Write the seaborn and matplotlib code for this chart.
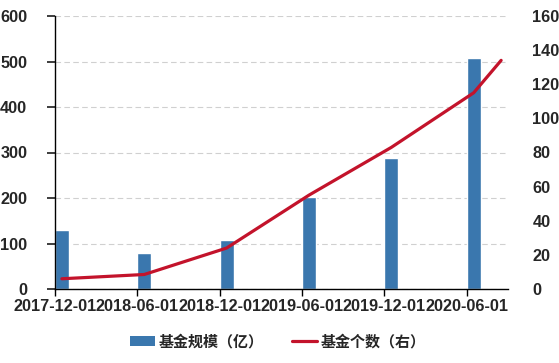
import matplotlib
matplotlib.use("Agg")
import matplotlib.pyplot as plt
import seaborn as sns
import numpy as np
import pandas as pd
from matplotlib.patches import Patch
from matplotlib.lines import Line2D

# Data
bar_dates = ["2017-12-01", "2018-06-01", "2018-12-01", "2019-06-01", "2019-12-01", "2020-06-01"]
bar_month = [0, 6, 12, 18, 24, 30]          # months since 2017-12
fund_size = [130, 80, 108, 203, 288, 508]   # 基金规模（亿）
line_month = [0, 6, 12, 18, 24, 30, 32]
fund_count = [6, 8.5, 24, 55, 83, 115, 134] # 基金个数（右）
tick_labels = bar_dates

sns.set_theme(style="white")
plt.rcParams['font.family'] = ['Liberation Sans', 'Noto Sans CJK SC', 'DejaVu Sans']
plt.rcParams['font.weight'] = 'bold'

bar_color = "#3a77ae"
line_color = "#c3132b"
FS = 11.7

fig = plt.figure(figsize=(5.59, 3.63), dpi=100)
ax = fig.add_axes([55/559, 1-289/363, (508-55)/559, (289-16)/363])

df_bar = pd.DataFrame({"x": np.array(bar_month) + 0.5, "y": fund_size})
sns.barplot(data=df_bar, x="x", y="y", native_scale=True, width=1/6*1.02,
            color=bar_color, saturation=1, ax=ax, zorder=2)

ax.set_xlim(0, 33)
ax.set_ylim(0, 600)
ax.set_yticks(range(0, 601, 100))
ax.set_xticks(bar_month)
ax.set_xticklabels(tick_labels)
ax.set_xlabel("")
ax.set_ylabel("")
ax.tick_params(axis="x", bottom=True, length=5, width=1, color="black", labelsize=FS, pad=2)
ax.tick_params(axis="y", left=False, labelsize=FS, pad=14)
for lab in ax.get_xticklabels() + ax.get_yticklabels():
    lab.set_fontweight("bold")
ax.grid(axis="y", color="#d0d0d0", linestyle=(0, (5, 3)), linewidth=0.8, zorder=0)
ax.set_axisbelow(True)
for s in ["top", "right"]:
    ax.spines[s].set_visible(False)
ax.spines["left"].set_color("black")
ax.spines["bottom"].set_color("black")
ax.spines["left"].set_linewidth(1)
ax.spines["bottom"].set_linewidth(1)

ax2 = ax.twinx()
df_line = pd.DataFrame({"x": np.array(line_month) + 0.5, "y": fund_count})
sns.lineplot(data=df_line, x="x", y="y", color=line_color, linewidth=2.3, ax=ax2)
ax2.set_ylim(0, 160)
ax2.set_yticks(range(0, 161, 20))
ax2.set_ylabel("")
ax2.set_xlim(0, 33)
ax2.tick_params(axis="y", right=False, labelsize=FS, pad=11.5)
for lab in ax2.get_yticklabels():
    lab.set_fontweight("bold")
for s in ["top", "right", "left", "bottom"]:
    ax2.spines[s].set_visible(False)

handles = [Patch(facecolor=bar_color, edgecolor="none"),
           Line2D([0], [0], color=line_color, linewidth=2.3)]
fig.legend(handles, ["基金规模（亿）", "基金个数（右）"], loc="center",
           bbox_to_anchor=(277.5/559, 1-342/363), ncol=2, frameon=False,
           prop={"size": 10.8, "weight": "bold"}, handlelength=1.7,
           handleheight=0.6, columnspacing=1.9, handletextpad=0.2)

fig.savefig("out.png", dpi=100)
